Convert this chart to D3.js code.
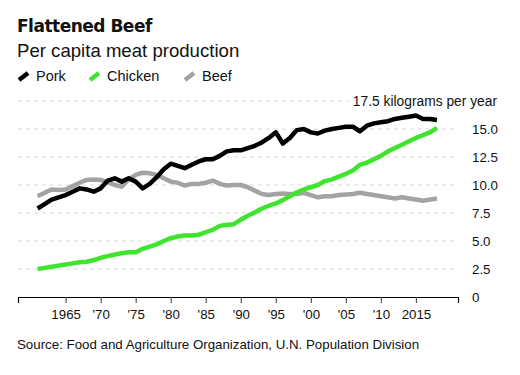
<!DOCTYPE html>
<html>
<head>
<meta charset="utf-8">
<script src="https://cdn.jsdelivr.net/npm/d3@7"></script>
<style>
  body { margin: 0; background: #fff; }
  text { font-family: "Liberation Sans", Arial, sans-serif; fill: #111; }
</style>
</head>
<body>
<div id="chart"></div>
<script>
// yearly values, kg per person, 1961-2018
const years = d3.range(1961, 2019);
const pork = [7.9, 8.3, 8.7, 8.9, 9.1, 9.4, 9.7, 9.6, 9.4, 9.7,
  10.4, 10.6, 10.3, 10.6, 10.3, 9.7, 10.1, 10.7, 11.4, 11.9,
  11.7, 11.5, 11.8, 12.1, 12.3, 12.3, 12.6, 13.0, 13.1, 13.1,
  13.3, 13.5, 13.8, 14.2, 14.7, 13.7, 14.2, 14.9, 15.0, 14.7,
  14.6, 14.85, 15.0, 15.1, 15.2, 15.2, 14.8, 15.3, 15.5, 15.6,
  15.7, 15.9, 16.0, 16.1, 16.2, 15.9, 15.9, 15.8];
const chicken = [2.5, 2.6, 2.7, 2.8, 2.9, 3.0, 3.1, 3.15, 3.3, 3.5,
  3.65, 3.8, 3.9, 4.0, 4.0, 4.3, 4.5, 4.7, 5.0, 5.25,
  5.4, 5.5, 5.5, 5.55, 5.8, 6.0, 6.35, 6.45, 6.5, 6.9,
  7.25, 7.55, 7.9, 8.15, 8.35, 8.65, 9.0, 9.35, 9.6, 9.8,
  10.0, 10.35, 10.5, 10.75, 11.0, 11.3, 11.8, 12.0, 12.3, 12.6,
  13.0, 13.3, 13.6, 13.9, 14.2, 14.45, 14.7, 15.1];
const beef = [9.0, 9.3, 9.6, 9.55, 9.6, 9.9, 10.2, 10.45, 10.5, 10.45,
  10.25, 10.0, 9.85, 10.5, 10.9, 11.1, 11.05, 10.9, 10.6, 10.3,
  10.2, 9.95, 10.1, 10.1, 10.2, 10.4, 10.1, 9.95, 10.0, 10.0,
  9.8, 9.5, 9.2, 9.1, 9.2, 9.25, 9.2, 9.2, 9.3, 9.1,
  8.9, 9.0, 9.0, 9.1, 9.15, 9.2, 9.3, 9.2, 9.1, 9.0,
  8.9, 8.8, 8.9, 8.8, 8.7, 8.6, 8.7, 8.8];

const seriesNames = ["Pork", "Chicken", "Beef"];
const seriesColors = ["#000000", "#3fe42f", "#a3a3a3"];
const xTicks = [1965, 1970, 1975, 1980, 1985, 1990, 1995, 2000, 2005, 2010, 2015];
const xTickLabels = ["1965", "'70", "'75", "'80", "'85", "'90", "'95", "'00", "'05", "'10", "2015"];
const yTicks = [0, 2.5, 5, 7.5, 10, 12.5, 15, 17.5];
const yTickLabels = ["0", "2.5", "5.0", "7.5", "10.0", "12.5", "15.0", "17.5 kilograms per year"];

const width = 520, height = 375;
const svg = d3.select("#chart").append("svg")
  .attr("width", width)
  .attr("height", height);

// scales
const x = d3.scaleLinear().domain([1958.2, 2021]).range([18, 458]);
const y = d3.scaleLinear().domain([0, 17.5]).range([297, 101]);

// title block
svg.append("text")
  .attr("x", 17).attr("y", 32)
  .style("font-family", "'DejaVu Sans', sans-serif")
  .style("font-size", "17px").style("font-weight", "bold")
  .style("letter-spacing", "-0.5px")
  .text("Flattened Beef");
svg.append("text")
  .attr("x", 17).attr("y", 57)
  .style("font-size", "18.6px")
  .text("Per capita meat production");

// legend
const legendX = [17, 88, 183];
seriesNames.forEach((name, i) => {
  let g = svg.append("g").attr("transform", `translate(${legendX[i]}, 0)`);
  g.append("line")
    .attr("x1", 2).attr("y1", 80)
    .attr("x2", 11).attr("y2", 73)
    .attr("stroke", seriesColors[i])
    .attr("stroke-width", 4.5);
  g.append("text")
    .attr("x", 19).attr("y", 80.5)
    .style("font-size", "14.5px")
    .text(name);
});

// grid lines
svg.append("g").selectAll("line")
  .data(yTicks.filter(d => d > 0))
  .enter().append("line")
  .attr("x1", 18).attr("x2", 458)
  .attr("y1", d => y(d)).attr("y2", d => y(d))
  .attr("stroke", "#d9d9d9")
  .attr("stroke-width", 1)
  .attr("stroke-dasharray", "4,4");

// y labels on right
let yLab = svg.append("g").selectAll("text")
  .data(yTicks)
  .enter().append("text")
  .attr("x", (d, i) => i === yTicks.length - 1 ? 497 : 472)
  .attr("y", d => y(d) + 4.5)
  .attr("text-anchor", (d, i) => i === yTicks.length - 1 ? "end" : "start")
  .style("font-size", (d, i) => i === yTicks.length - 1 ? "13.8px" : "13.3px")
  .text((d, i) => yTickLabels[i]);

// white box behind the top label so the grid line stops at it
let topLab = yLab.filter((d, i) => i === yTicks.length - 1).node();
let bb = topLab.getBBox();
svg.insert("rect", "g:last-of-type")
  .attr("x", bb.x - 4).attr("y", bb.y)
  .attr("width", bb.width + 4).attr("height", bb.height)
  .attr("fill", "#fff");
topLab.parentNode.appendChild(topLab);

// x axis
const xAxis = d3.axisBottom(x)
  .tickValues(xTicks)
  .tickSize(6)
  .tickPadding(7)
  .tickFormat((d, i) => xTickLabels[i]);
let gx = svg.append("g")
  .attr("transform", `translate(0, ${y(0)})`)
  .call(xAxis);
gx.select(".domain").attr("stroke", "#000").attr("stroke-width", 1.2);
gx.selectAll(".tick line").attr("stroke", "#555").attr("stroke-width", 1.2);
gx.selectAll(".tick text")
  .style("font-size", "13.3px")
  .style("font-family", "'Liberation Sans', Arial, sans-serif")
  .attr("fill", "#111");

// lines, beef drawn first so pork and chicken sit on top
const line = d3.line()
  .x((d, i) => x(years[i]))
  .y(d => y(d));
const allSeries = [pork, chicken, beef];
[2, 1, 0].forEach(i => {
  svg.append("path")
    .datum(allSeries[i])
    .attr("fill", "none")
    .attr("stroke", seriesColors[i])
    .attr("stroke-width", 4.5)
    .attr("stroke-linejoin", "round")
    .attr("stroke-linecap", "butt")
    .attr("d", line);
});

// source
svg.append("text")
  .attr("x", 17).attr("y", 349)
  .style("font-size", "13.3px")
  .text("Source: Food and Agriculture Organization, U.N. Population Division");
</script>
</body>
</html>
